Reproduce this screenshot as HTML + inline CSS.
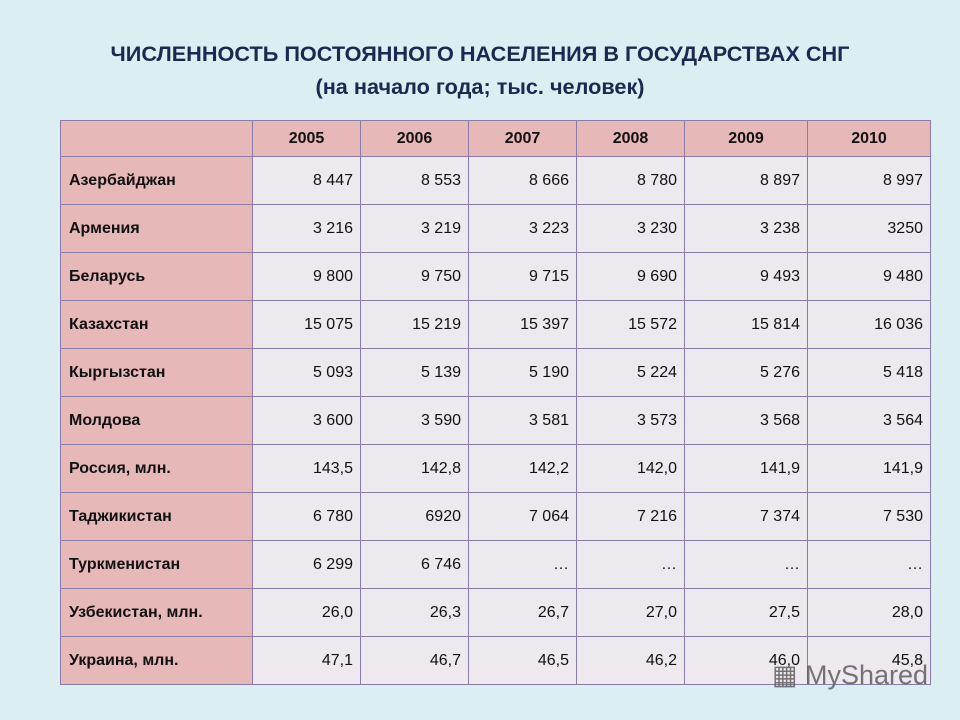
<!DOCTYPE html>
<html><head><meta charset="utf-8"><style>
body{margin:0;width:960px;height:720px;background:#dbeef2;font-family:"Liberation Sans",sans-serif;position:relative;overflow:hidden}
h1{position:absolute;top:37px;left:0;width:960px;margin:0;text-align:center;font-size:21.7px;line-height:33px;color:#1c2850;font-weight:bold}
table{position:absolute;left:60px;top:120px;border-collapse:collapse;table-layout:fixed}
td,th{border:1.5px solid #8a7ca8;font-size:16px;color:#111;padding:0 7px;height:47px}
th{background:#e6b9b8;height:35px;text-align:center;font-weight:bold}
td.n{background:#e6b9b8;font-weight:bold;text-align:left;padding-left:8px}
td.v{background:#eee9ee;text-align:right}
.wm{position:absolute;left:772px;top:660px;font-size:27px;color:#555;opacity:.8}
</style></head><body>
<h1>ЧИСЛЕННОСТЬ ПОСТОЯННОГО НАСЕЛЕНИЯ В ГОСУДАРСТВАХ СНГ<br>(на начало года; тыс. человек)</h1>
<table>
<colgroup><col style="width:192px"><col style="width:108px"><col style="width:108px"><col style="width:108px"><col style="width:108px"><col style="width:123px"><col style="width:123px"></colgroup>
<tr><th></th><th>2005</th><th>2006</th><th>2007</th><th>2008</th><th>2009</th><th>2010</th></tr>
<tr><td class="n">Азербайджан</td><td class="v">8 447</td><td class="v">8 553</td><td class="v">8 666</td><td class="v">8 780</td><td class="v">8 897</td><td class="v">8 997</td></tr>
<tr><td class="n">Армения</td><td class="v">3 216</td><td class="v">3 219</td><td class="v">3 223</td><td class="v">3 230</td><td class="v">3 238</td><td class="v">3250</td></tr>
<tr><td class="n">Беларусь</td><td class="v">9 800</td><td class="v">9 750</td><td class="v">9 715</td><td class="v">9 690</td><td class="v">9 493</td><td class="v">9 480</td></tr>
<tr><td class="n">Казахстан</td><td class="v">15 075</td><td class="v">15 219</td><td class="v">15 397</td><td class="v">15 572</td><td class="v">15 814</td><td class="v">16 036</td></tr>
<tr><td class="n">Кыргызстан</td><td class="v">5 093</td><td class="v">5 139</td><td class="v">5 190</td><td class="v">5 224</td><td class="v">5 276</td><td class="v">5 418</td></tr>
<tr><td class="n">Молдова</td><td class="v">3 600</td><td class="v">3 590</td><td class="v">3 581</td><td class="v">3 573</td><td class="v">3 568</td><td class="v">3 564</td></tr>
<tr><td class="n">Россия, млн.</td><td class="v">143,5</td><td class="v">142,8</td><td class="v">142,2</td><td class="v">142,0</td><td class="v">141,9</td><td class="v">141,9</td></tr>
<tr><td class="n">Таджикистан</td><td class="v">6 780</td><td class="v">6920</td><td class="v">7 064</td><td class="v">7 216</td><td class="v">7 374</td><td class="v">7 530</td></tr>
<tr><td class="n">Туркменистан</td><td class="v">6 299</td><td class="v">6 746</td><td class="v">…</td><td class="v">…</td><td class="v">…</td><td class="v">…</td></tr>
<tr><td class="n">Узбекистан, млн.</td><td class="v">26,0</td><td class="v">26,3</td><td class="v">26,7</td><td class="v">27,0</td><td class="v">27,5</td><td class="v">28,0</td></tr>
<tr><td class="n">Украина, млн.</td><td class="v">47,1</td><td class="v">46,7</td><td class="v">46,5</td><td class="v">46,2</td><td class="v">46,0</td><td class="v">45,8</td></tr>
</table>
<div class="wm">▦ MyShared</div>
</body></html>
